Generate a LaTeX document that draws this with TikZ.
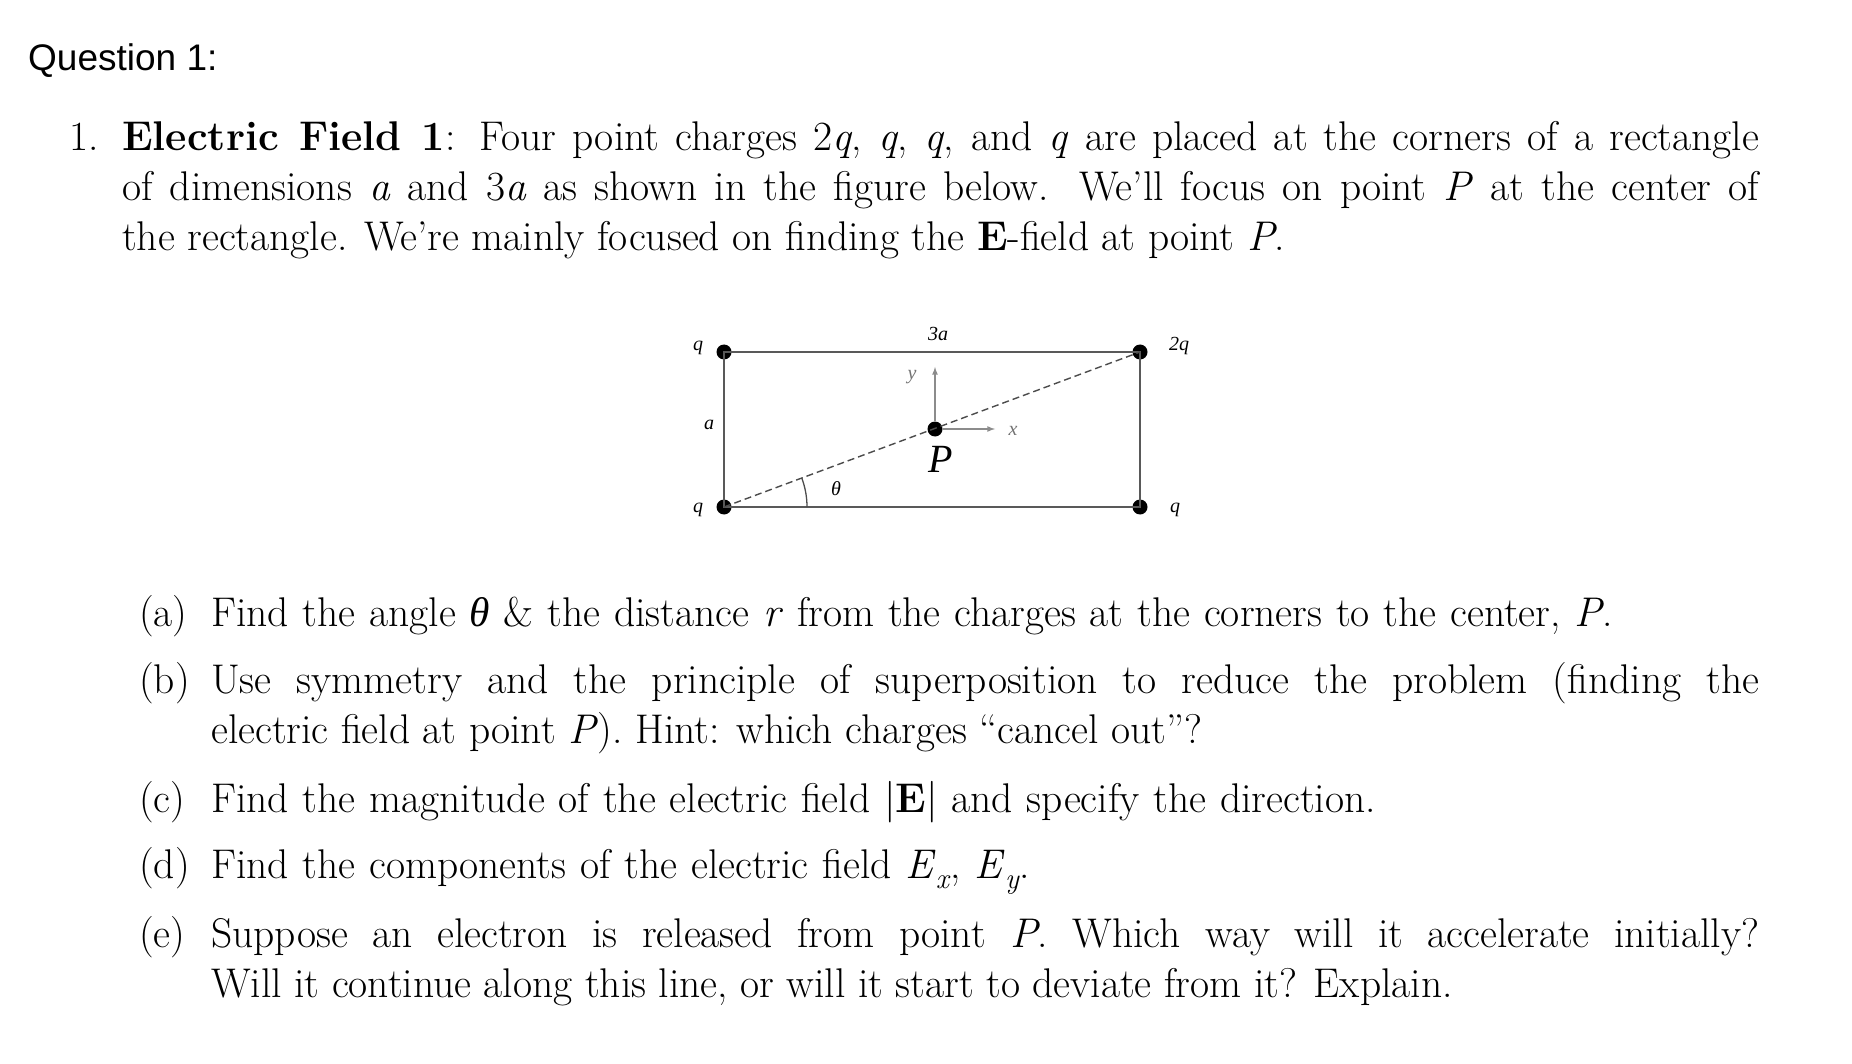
\documentclass[tikz,border=0pt]{standalone}
\usepackage{fontspec}
\newfontfamily\qfont{Liberation Sans}
\newfontfamily\figfont{Liberation Serif}
\newcommand{\mi}[1]{\textit{#1}}
\newcommand{\msub}[1]{\raisebox{-0.25em}{\fontsize{29}{30}\selectfont\textit{#1}}}
\newcommand{\mth}{{\figfont\itshape θ}}
\begin{document}
\begin{tikzpicture}[x=1pt,y=-1pt,
  dot/.style={circle,fill=black,inner sep=0pt,minimum size=15pt},
  lab/.style={font=\figfont\itshape\fontsize{20}{24}\selectfont,inner sep=0pt},
  body/.style={font=\fontsize{41.5}{50}\selectfont,inner sep=0pt,anchor=base west},
  edge/.style={draw=black!65,line width=1.6pt},
  axis/.style={draw=black!45,line width=1.6pt,-latex}]
\useasboundingbox (0,0) rectangle (1852,1064);
\node[anchor=base west,inner sep=0pt,font=\qfont\fontsize{37}{44}\selectfont] (q) at (28,71) {Question 1:};
\node[body] (n1) at (69,151) {1.};
\node[body,text width=1637pt,align=justify] (t1) at (122,151) {\textbf{Electric Field 1}: Four point charges 2\mi{q}, \mi{q}, \mi{q}, and \mi{q} are placed at the corners of a rectangle\linebreak of dimensions \mi{a} and 3\mi{a} as shown in the figure below. We'll focus on point \mi{P} at the center of\linebreak the rectangle. We're mainly focused on finding the \textbf{E}-field at point \mi{P}.};
% figure
\node[dot] (tl) at (724,352) {};
\node[dot] (tr) at (1140,352) {};
\node[dot] (bl) at (724,507) {};
\node[dot] (br) at (1140,507) {};
\node[dot,minimum size=15pt] (p) at (935,429) {};
\draw[edge] (tl.center) -- (tr.center) -- (br.center) -- (bl.center) -- cycle;
\draw[black!70,line width=1.4pt,dash pattern=on 7pt off 4pt] (bl.center) -- (tr.center);
\draw[black!70,line width=1.3pt] ([shift={(0:83)}]bl.center) arc[start angle=0,end angle=-20.4,radius=83];
\coordinate (yend) at (935,367);
\coordinate (xend) at (995,429);
\draw[axis] (p) -- (yend);
\draw[axis] (p) -- (xend);
\node[lab] (l3a) at (938,334) {3a};
\node[lab] (l2q) at (1179,346) {2q};
\node[lab] (lq1) at (698,348) {q};
\node[lab] (la) at (709,425) {a};
\node[lab] (lq2) at (698,510) {q};
\node[lab] (lq3) at (1175,510) {q};
\node[lab] (lth) at (836,489) {θ};
\node[lab,text=black!55] (ly) at (912,377) {y};
\node[lab,text=black!55] (lx) at (1013,431) {x};
\node[inner sep=0pt,font=\figfont\itshape\fontsize{40}{42}\selectfont] (lp) at (941,459) {P};
% items
\node[body] (ia) at (139,626) {(a)};
\node[body,text width=1548pt] (ta) at (211,626) {Find the angle \mth{} \& the distance \mi{r} from the charges at the corners to the center, \mi{P}.};
\node[body] (ib) at (139,693) {(b)};
\node[body,text width=1548pt,align=justify] (tb) at (211,693) {Use symmetry and the principle of superposition to reduce the problem (finding the\linebreak electric field at point \mi{P}). Hint: which charges ``cancel out''?};
\node[body] (ic) at (139,812) {(c)};
\node[body,text width=1548pt] (tc) at (211,812) {Find the magnitude of the electric field |\textbf{E}| and specify the direction.};
\node[body] (id) at (139,878) {(d)};
\node[body,text width=1548pt] (td) at (211,878) {Find the components of the electric field \mi{E}\msub{x}, \mi{E}\msub{y}.};
\node[body] (ie) at (139,947) {(e)};
\node[body,text width=1548pt,align=justify] (te) at (211,947) {Suppose an electron is released from point \mi{P}. Which way will it accelerate initially?\linebreak Will it continue along this line, or will it start to deviate from it? Explain.};
\end{tikzpicture}
\end{document}
